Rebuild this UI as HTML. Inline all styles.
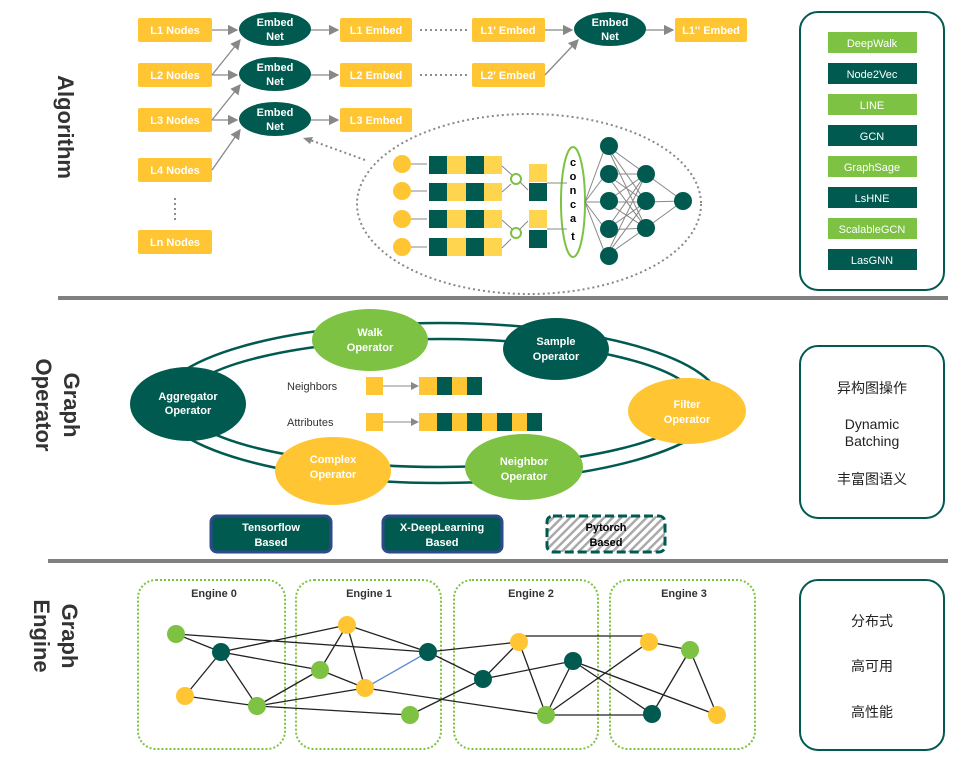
<!DOCTYPE html>
<html><head><meta charset="utf-8"><style>
body{margin:0;background:#fff;}
svg{display:block;font-family:"Liberation Sans","Noto Sans CJK SC",sans-serif;}
.b{font-weight:bold;font-size:11px;fill:#fff;text-anchor:middle;}
.k{font-size:11px;fill:#000;text-anchor:middle;font-weight:bold}
</style></head><body>
<svg width="971" height="761" viewBox="0 0 971 761" xmlns="http://www.w3.org/2000/svg">
<defs>
<marker id="a" markerWidth="8" markerHeight="8" refX="7" refY="4" orient="auto"><path d="M0,0L8,4L0,8z" fill="#888"/></marker>
<pattern id="h" width="6" height="6" patternUnits="userSpaceOnUse" patternTransform="rotate(45)"><rect width="6" height="6" fill="#fff"/><rect width="2.5" height="6" fill="#aaa"/></pattern>
</defs>
<rect x="58" y="296" width="890" height="4" fill="#808080"/>
<rect x="48" y="559" width="900" height="4" fill="#808080"/>
<g font-size="22" font-weight="bold" fill="#333" text-anchor="middle">
<text transform="translate(58,127) rotate(90)">Algorithm</text>
<text transform="translate(64,405) rotate(90)">Graph</text>
<text transform="translate(36,405) rotate(90)">Operator</text>
<text transform="translate(62,636) rotate(90)">Graph</text>
<text transform="translate(34,636) rotate(90)">Engine</text>
</g>
<g fill="none" stroke="#005A50" stroke-width="2">
<rect x="800" y="12" width="144" height="278" rx="18"/>
<rect x="800" y="346" width="144" height="172" rx="18"/>
<rect x="800" y="580" width="144" height="170" rx="18"/>
</g>
<g font-size="11" text-anchor="middle" fill="#fff">
<rect x="828" y="32" width="89" height="21" fill="#7DC242"/><text x="872" y="47">DeepWalk</text>
<rect x="828" y="63" width="89" height="21" fill="#005A50"/><text x="872" y="78">Node2Vec</text>
<rect x="828" y="94" width="89" height="21" fill="#7DC242"/><text x="872" y="109">LINE</text>
<rect x="828" y="125" width="89" height="21" fill="#005A50"/><text x="872" y="140">GCN</text>
<rect x="828" y="156" width="89" height="21" fill="#7DC242"/><text x="872" y="171">GraphSage</text>
<rect x="828" y="187" width="89" height="21" fill="#005A50"/><text x="872" y="202">LsHNE</text>
<rect x="828" y="218" width="89" height="21" fill="#7DC242"/><text x="872" y="233">ScalableGCN</text>
<rect x="828" y="249" width="89" height="21" fill="#005A50"/><text x="872" y="264">LasGNN</text>
</g>
<g font-size="14" text-anchor="middle" fill="#222">
<text x="872" y="393">异构图操作</text>
<text x="872" y="429">Dynamic</text><text x="872" y="446">Batching</text>
<text x="872" y="484">丰富图语义</text>
<text x="872" y="626">分布式</text>
<text x="872" y="671">高可用</text>
<text x="872" y="717">高性能</text>
</g>
<g fill="#FFC533">
<rect x="138" y="18" width="74" height="24" rx="2"/><rect x="138" y="63" width="74" height="24" rx="2"/>
<rect x="138" y="108" width="74" height="24" rx="2"/><rect x="138" y="158" width="74" height="24" rx="2"/>
<rect x="138" y="230" width="74" height="24" rx="2"/>
<rect x="340" y="18" width="72" height="24" rx="2"/><rect x="340" y="63" width="72" height="24" rx="2"/>
<rect x="340" y="108" width="72" height="24" rx="2"/>
<rect x="472" y="18" width="73" height="24" rx="2"/><rect x="472" y="63" width="73" height="24" rx="2"/>
<rect x="675" y="18" width="72" height="24" rx="2"/>
</g>
<g>
<text x="175" y="34" class="b">L1 Nodes</text><text x="175" y="79" class="b">L2 Nodes</text>
<text x="175" y="124" class="b">L3 Nodes</text><text x="175" y="174" class="b">L4 Nodes</text>
<text x="175" y="246" class="b">Ln Nodes</text>
<text x="376" y="34" class="b">L1 Embed</text><text x="376" y="79" class="b">L2 Embed</text>
<text x="376" y="124" class="b">L3 Embed</text>
<text x="508" y="34" class="b">L1' Embed</text><text x="508" y="79" class="b">L2' Embed</text>
<text x="711" y="34" class="b">L1'' Embed</text>
</g>
<g fill="#005A50"><ellipse cx="275" cy="29" rx="36" ry="17"/><ellipse cx="275" cy="74" rx="36" ry="17"/><ellipse cx="275" cy="119" rx="36" ry="17"/><ellipse cx="610" cy="29" rx="36" ry="17"/></g>
<g><text x="275" y="26" class="b">Embed</text><text x="275" y="40" class="b">Net</text>
<text x="275" y="71" class="b">Embed</text><text x="275" y="85" class="b">Net</text>
<text x="275" y="116" class="b">Embed</text><text x="275" y="130" class="b">Net</text>
<text x="610" y="26" class="b">Embed</text><text x="610" y="40" class="b">Net</text></g>
<g stroke="#888" stroke-width="1.3" marker-end="url(#a)">
<line x1="212" y1="30" x2="237" y2="30"/><line x1="212" y1="75" x2="237" y2="75"/><line x1="212" y1="120" x2="237" y2="120"/>
<line x1="212" y1="75" x2="240" y2="40"/><line x1="212" y1="120" x2="240" y2="85"/><line x1="212" y1="170" x2="240" y2="130"/>
<line x1="311" y1="30" x2="338" y2="30"/><line x1="311" y1="75" x2="338" y2="75"/><line x1="311" y1="120" x2="338" y2="120"/>
<line x1="545" y1="30" x2="572" y2="30"/><line x1="545" y1="75" x2="578" y2="40"/><line x1="646" y1="30" x2="673" y2="30"/>
</g>
<g stroke="#666" stroke-width="1.5" stroke-dasharray="2,3"><line x1="420" y1="30" x2="467" y2="30"/><line x1="420" y1="75" x2="467" y2="75"/><line x1="175" y1="198" x2="175" y2="222"/></g>
<ellipse cx="529" cy="204" rx="172" ry="90" fill="none" stroke="#888" stroke-width="2" stroke-dasharray="2,3"/>
<line x1="365" y1="160" x2="310" y2="140" stroke="#888" stroke-width="2" stroke-dasharray="2,3"/>
<path d="M303,138l10,-1l-3,7z" fill="#888"/>
<g>
<g fill="#FFC533"><circle cx="402" cy="164" r="9"/><circle cx="402" cy="191" r="9"/><circle cx="402" cy="219" r="9"/><circle cx="402" cy="247" r="9"/></g>
<g id="row"><rect x="429" y="156" width="18" height="18" fill="#005A50"/><rect x="447" y="156" width="19" height="18" fill="#FFD54F"/><rect x="466" y="156" width="18" height="18" fill="#005A50"/><rect x="484" y="156" width="18" height="18" fill="#FFD54F"/></g>
<use href="#row" y="27"/><use href="#row" y="54"/><use href="#row" y="82"/>
<rect x="529" y="164" width="18" height="18" fill="#FFD54F"/><rect x="529" y="183" width="18" height="18" fill="#005A50"/>
<rect x="529" y="210" width="18" height="18" fill="#FFD54F"/><rect x="529" y="230" width="18" height="18" fill="#005A50"/>
<g fill="none" stroke="#7DC242" stroke-width="2"><circle cx="516" cy="179" r="5"/><circle cx="516" cy="233" r="5"/><ellipse cx="573" cy="202" rx="12" ry="55"/></g>
<g font-size="11" font-weight="bold" text-anchor="middle" fill="#000"><text x="573" y="166">c</text><text x="573" y="180">o</text><text x="573" y="194">n</text><text x="573" y="208">c</text><text x="573" y="222">a</text><text x="573" y="240">t</text></g>
<g stroke="#888" stroke-width="1" fill="none">
<path d="M411,164h16M411,191h16M411,219h16M411,247h16M502,166l10,9M502,192l9,-8M502,220l10,9M502,248l9,-9M520,182l8,8M520,229l8,-8M547,183h20M547,229h20"/>
<path d="M585,202L606,145M585,202L606,174M585,202L606,202M585,202L606,230M585,202L606,256"/>
<path d="M606,145L646,174M606,145L646,202M606,145L646,228M606,174L646,174M606,174L646,202M606,174L646,228M606,202L646,174M606,202L646,202M606,202L646,228M606,230L646,174M606,230L646,202M606,230L646,228M606,256L646,174M606,256L646,202M606,256L646,228M646,174L683,201M646,202L683,201M646,228L683,201"/>
</g>
<g fill="#005A50"><circle cx="609" cy="146" r="9"/><circle cx="609" cy="174" r="9"/><circle cx="609" cy="201" r="9"/><circle cx="609" cy="229" r="9"/><circle cx="609" cy="256" r="9"/><circle cx="646" cy="174" r="9"/><circle cx="646" cy="201" r="9"/><circle cx="646" cy="228" r="9"/><circle cx="683" cy="201" r="9"/></g>
</g>
<g fill="none" stroke="#005A50" stroke-width="2.5"><ellipse cx="440" cy="403" rx="280" ry="80"/><ellipse cx="440" cy="403" rx="258" ry="64"/></g>
<ellipse cx="370" cy="340" rx="58" ry="31" fill="#7DC242"/>
<ellipse cx="556" cy="349" rx="53" ry="31" fill="#005A50"/>
<ellipse cx="188" cy="404" rx="58" ry="37" fill="#005A50"/>
<ellipse cx="687" cy="411" rx="59" ry="33" fill="#FFC533"/>
<ellipse cx="333" cy="471" rx="58" ry="34" fill="#FFC533"/>
<ellipse cx="524" cy="467" rx="59" ry="33" fill="#7DC242"/>
<g><text x="370" y="336" class="b">Walk</text><text x="370" y="351" class="b">Operator</text>
<text x="556" y="345" class="b">Sample</text><text x="556" y="360" class="b">Operator</text>
<text x="188" y="400" class="b">Aggregator</text><text x="188" y="414" class="b">Operator</text>
<text x="687" y="408" class="b">Filter</text><text x="687" y="423" class="b">Operator</text>
<text x="333" y="463" class="b">Complex</text><text x="333" y="478" class="b">Operator</text>
<text x="524" y="465" class="b">Neighbor</text><text x="524" y="480" class="b">Operator</text></g>
<g font-size="11" fill="#333"><text x="287" y="390">Neighbors</text><text x="287" y="426">Attributes</text></g>
<g fill="#FFC533"><rect x="366" y="377" width="17" height="18"/><rect x="366" y="413" width="17" height="18"/></g>
<g stroke="#888" marker-end="url(#a)"><line x1="383" y1="386" x2="418" y2="386"/><line x1="383" y1="422" x2="418" y2="422"/></g>
<g><rect x="419" y="377" width="18" height="18" fill="#FFC533"/><rect x="437" y="377" width="15" height="18" fill="#005A50"/><rect x="452" y="377" width="15" height="18" fill="#FFC533"/><rect x="467" y="377" width="15" height="18" fill="#005A50"/>
<rect x="419" y="413" width="18" height="18" fill="#FFC533"/><rect x="437" y="413" width="15" height="18" fill="#005A50"/><rect x="452" y="413" width="15" height="18" fill="#FFC533"/><rect x="467" y="413" width="15" height="18" fill="#005A50"/><rect x="482" y="413" width="15" height="18" fill="#FFC533"/><rect x="497" y="413" width="15" height="18" fill="#005A50"/><rect x="512" y="413" width="15" height="18" fill="#FFC533"/><rect x="527" y="413" width="15" height="18" fill="#005A50"/></g>
<rect x="211" y="516" width="120" height="36" rx="6" fill="#005A50" stroke="#2D4A8A" stroke-width="3"/>
<rect x="383" y="516" width="119" height="36" rx="6" fill="#005A50" stroke="#2D4A8A" stroke-width="3"/>
<rect x="547" y="516" width="118" height="36" rx="6" fill="url(#h)" stroke="#005A50" stroke-width="3" stroke-dasharray="9,4"/>
<text x="271" y="531" class="b">Tensorflow</text><text x="271" y="546" class="b">Based</text>
<text x="442" y="531" class="b">X-DeepLearning</text><text x="442" y="546" class="b">Based</text>
<text x="606" y="531" class="k">Pytorch</text><text x="606" y="546" class="k">Based</text>
<g fill="none" stroke="#7DC242" stroke-width="2" stroke-dasharray="2,2">
<rect x="138" y="580" width="147" height="169" rx="18"/><rect x="296" y="580" width="145" height="169" rx="18"/>
<rect x="454" y="580" width="144" height="169" rx="18"/><rect x="610" y="580" width="145" height="169" rx="18"/>
</g>
<g font-size="11" font-weight="bold" fill="#333" text-anchor="middle"><text x="214" y="597">Engine 0</text><text x="369" y="597">Engine 1</text><text x="531" y="597">Engine 2</text><text x="684" y="597">Engine 3</text></g>
<g stroke="#222" stroke-width="1.3">
<path d="M176,634L221,652M176,634L428,652M221,652L185,696M221,652L257,706M221,652L347,625M221,652L320,670M185,696L257,706M257,706L320,670M257,706L365,688M257,706L410,715M320,670L347,625M347,625L365,688M347,625L428,652M320,670L365,688M365,688L546,715M428,652L519,642M428,652L483,679M410,715L483,679M483,679L519,642M483,679L573,661M519,642L546,715M519,636L649,636M573,661L546,715M573,661L652,714M573,661L717,715M546,715L649,642M546,715L652,715M649,642L690,650M690,650L652,714M690,650L717,715"/>
</g>
<line x1="365" y1="688" x2="428" y2="652" stroke="#5B8BD0" stroke-width="1.3"/>
<g>
<circle cx="176" cy="634" r="9" fill="#7DC242"/><circle cx="221" cy="652" r="9" fill="#005A50"/><circle cx="185" cy="696" r="9" fill="#FFC533"/>
<circle cx="257" cy="706" r="9" fill="#7DC242"/><circle cx="347" cy="625" r="9" fill="#FFC533"/><circle cx="320" cy="670" r="9" fill="#7DC242"/>
<circle cx="365" cy="688" r="9" fill="#FFC533"/><circle cx="428" cy="652" r="9" fill="#005A50"/><circle cx="410" cy="715" r="9" fill="#7DC242"/>
<circle cx="519" cy="642" r="9" fill="#FFC533"/><circle cx="483" cy="679" r="9" fill="#005A50"/><circle cx="573" cy="661" r="9" fill="#005A50"/>
<circle cx="546" cy="715" r="9" fill="#7DC242"/><circle cx="649" cy="642" r="9" fill="#FFC533"/><circle cx="690" cy="650" r="9" fill="#7DC242"/>
<circle cx="652" cy="714" r="9" fill="#005A50"/><circle cx="717" cy="715" r="9" fill="#FFC533"/>
</g>
</svg>
</body></html>
